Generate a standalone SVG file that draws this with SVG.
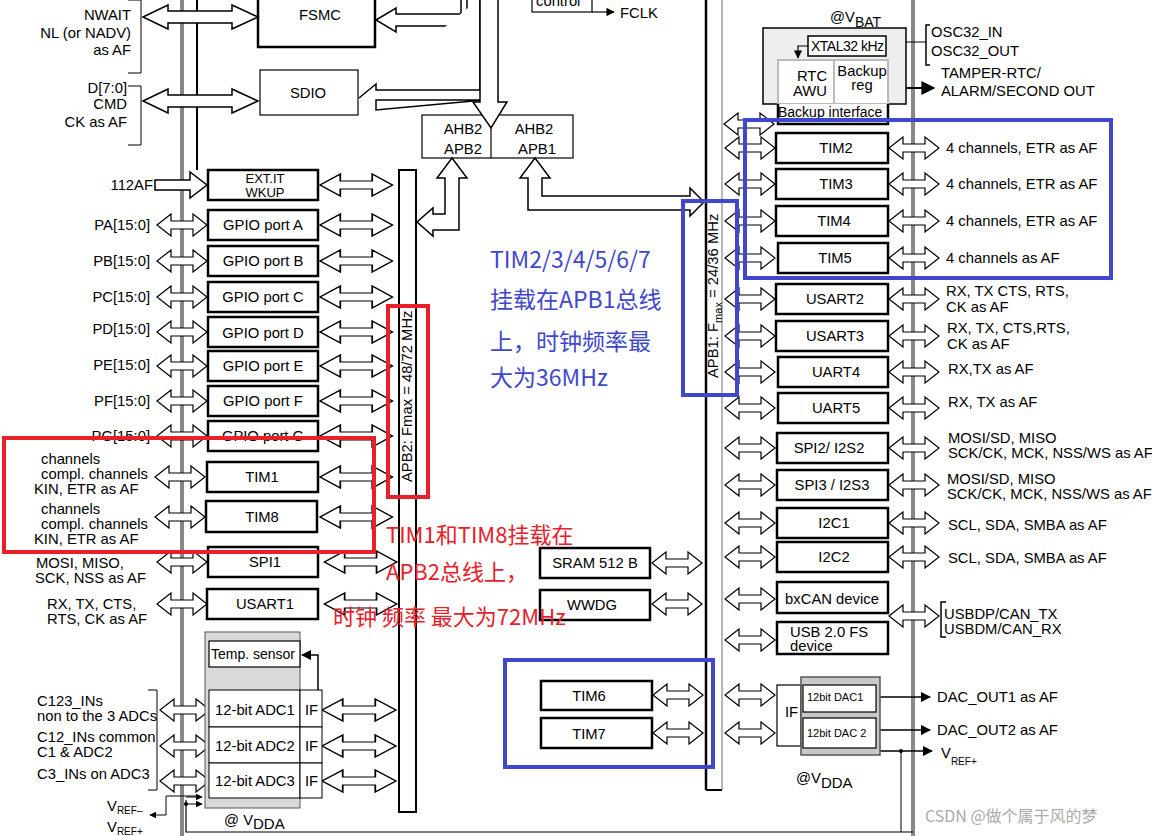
<svg xmlns="http://www.w3.org/2000/svg" xmlns:xlink="http://www.w3.org/1999/xlink" width="1152" height="836" viewBox="0 0 1152 836">
<style>
text{font-family:"Liberation Sans",Arial,sans-serif;font-size:14.8px;fill:#000}
.blk{fill:#fff;stroke:#000;stroke-width:2.5}
.thin{fill:#fff;stroke:#000;stroke-width:1.2}
.c{text-anchor:middle}
.e{text-anchor:end}
.da{fill:#fff;stroke:#000;stroke-width:1.2}
.ha{fill:#fff;stroke:#000;stroke-width:1.5}
.blue{fill:none;stroke:#3f48cc;stroke-width:4}
.red{fill:none;stroke:#e8202a;stroke-width:4}
.bt{font-family:"Noto Sans CJK SC","Noto Sans",sans-serif;font-size:23px;fill:#3f48cc}
.rt{font-family:"Noto Sans CJK SC","Noto Sans",sans-serif;font-size:22px;fill:#e8202a}
</style>
<defs>
<path id="da" class="da" d="M0,0 L14,-11 L14,-4 L36,-4 L36,-11 L50,0 L36,11 L36,4 L14,4 L14,11 Z"/>
<marker id="ar" viewBox="0 0 10 10" refX="9" refY="5" markerWidth="7" markerHeight="7" orient="auto"><path d="M0,0 L10,5 L0,10 Z" fill="#000"/></marker>
</defs>
<rect width="1152" height="836" fill="#fff"/>
<g id="buses">
<line x1="182" y1="0" x2="182" y2="836" stroke="#888" stroke-width="4"/>
<line x1="197" y1="0" x2="197" y2="170" stroke="#000" stroke-width="2"/>
<line x1="913" y1="0" x2="913" y2="836" stroke="#888" stroke-width="4"/>
<rect x="399" y="170" width="17" height="642" class="blk" style="stroke-width:2"/>
<text transform="translate(412,482) rotate(-90)">APB2: Fmax = 48/72 MHz</text>
<line x1="706" y1="0" x2="706" y2="790" stroke="#000" stroke-width="2.5"/>
<line x1="722" y1="0" x2="722" y2="790" stroke="#888" stroke-width="1.2"/>
<line x1="706" y1="790" x2="722" y2="790" stroke="#000" stroke-width="2"/>
<text transform="translate(718,378) rotate(-90)">APB1: F<tspan font-size="11" dy="4">max</tspan><tspan dy="-4"> = 24/36 MHz</tspan></text>
<polyline points="186,800 186,832 913,832" fill="none" stroke="#000" stroke-width="1.2"/>
</g>
<g id="fsmc"><rect x="258" y="-5" width="117" height="52" class="blk"/><text x="320" y="20" class="c">FSMC</text></g>
<g id="sdio"><rect x="260" y="70" width="98" height="45" class="thin"/><text x="308" y="98" class="c">SDIO</text></g>
<g id="ahb">
<rect x="422" y="115" width="151" height="43" class="thin"/><line x1="491" y1="115" x2="491" y2="158" stroke="#000" stroke-width="1.2"/>
<text x="463" y="134" class="c">AHB2</text><text x="463" y="154" class="c">APB2</text>
<text x="534" y="134" class="c">AHB2</text><text x="537" y="154" class="c">APB1</text>
<text transform="translate(490,84) rotate(-90)">AHB: Fmax</text>
<rect x="532" y="-10" width="60" height="22" class="thin"/><text x="536" y="6">control</text>
<line x1="592" y1="12" x2="614" y2="12" stroke="#000" stroke-width="1.2" marker-end="url(#ar)"/><text x="620" y="18">FCLK</text>
</g>
<g id="connectors">
<path class="ha" d="M143,17 L168,5 L168,11 L232,11 L232,5 L258,17 L232,29 L232,23 L168,23 L168,29 Z"/>
<path class="ha" d="M143,101 L168,89 L168,95 L232,95 L232,89 L258,101 L232,113 L232,107 L168,107 L168,113 Z"/>
<path class="ha" d="M376,20 L396,8 L396,14 L461,14 L461,-2 L467,-2 L467,26 L396,26 L396,32 Z"/>
<path class="ha" d="M359,98 L376,84 L376,90 L480,90 L480,-2 M484,100 L376,100 L376,110 Z"/>
<path class="ha" d="M480,-2 L480,102 L473,102 L491,128 L507,102 L498,102 L498,-2"/>
<path class="ha" d="M452,158 L467,178 L459,178 L459,230 L433,230 L433,236 L417,222 L433,208 L433,214 L445,214 L445,178 L437,178 Z"/>
<path class="ha" d="M535,158 L550,178 L542,178 L542,196 L690,196 L690,188 L704,202 L690,216 L690,210 L528,210 L528,178 L520,178 Z"/>
<path class="ha" d="M155,180 L190,180 L190,172 L207,185 L190,198 L190,190 L155,190 Z"/>
<use href="#da" transform="translate(157,225)"/><use href="#da" transform="translate(157,261)"/>
<use href="#da" transform="translate(157,297)"/><use href="#da" transform="translate(157,332)"/>
<use href="#da" transform="translate(157,366)"/><use href="#da" transform="translate(157,401)"/>
<use href="#da" transform="translate(157,436)"/><use href="#da" transform="translate(155,477)"/>
<use href="#da" transform="translate(155,517)"/><use href="#da" transform="translate(157,562)"/>
<use href="#da" transform="translate(157,604)"/>
<use href="#da" transform="translate(160,710)"/><use href="#da" transform="translate(160,746)"/><use href="#da" transform="translate(160,781)"/>
<g transform="translate(320,0) scale(1.45,1)">
<use href="#da" transform="translate(0,185)"/><use href="#da" transform="translate(0,225)"/><use href="#da" transform="translate(0,261)"/>
<use href="#da" transform="translate(0,297)"/><use href="#da" transform="translate(0,332)"/><use href="#da" transform="translate(0,366)"/>
<use href="#da" transform="translate(0,401)"/><use href="#da" transform="translate(0,436)"/><use href="#da" transform="translate(0,477)"/>
<use href="#da" transform="translate(0,517)"/><use href="#da" transform="translate(3,562)"/><use href="#da" transform="translate(3,604)"/>
</g>
<g transform="translate(322,0) scale(1.48,1)">
<use href="#da" transform="translate(0,710)"/><use href="#da" transform="translate(0,746)"/><use href="#da" transform="translate(0,781)"/>
</g>
<use href="#da" transform="translate(652,563)"/><use href="#da" transform="translate(652,604)"/>
<use href="#da" transform="translate(653,695)"/><use href="#da" transform="translate(653,733)"/>
<use href="#da" transform="translate(724,124)"/>
<use href="#da" transform="translate(725,148)"/><use href="#da" transform="translate(725,184)"/><use href="#da" transform="translate(725,221)"/>
<use href="#da" transform="translate(725,258)"/><use href="#da" transform="translate(725,299)"/><use href="#da" transform="translate(725,336)"/>
<use href="#da" transform="translate(725,372)"/><use href="#da" transform="translate(725,408)"/><use href="#da" transform="translate(725,448)"/>
<use href="#da" transform="translate(725,485)"/><use href="#da" transform="translate(725,523)"/><use href="#da" transform="translate(725,557)"/>
<use href="#da" transform="translate(725,599)"/><use href="#da" transform="translate(725,640)"/>
<use href="#da" transform="translate(725,695)"/><use href="#da" transform="translate(725,733)"/>
<use href="#da" transform="translate(889,148)"/><use href="#da" transform="translate(889,184)"/><use href="#da" transform="translate(889,221)"/>
<use href="#da" transform="translate(889,258)"/><use href="#da" transform="translate(889,299)"/><use href="#da" transform="translate(889,336)"/>
<use href="#da" transform="translate(889,372)"/><use href="#da" transform="translate(889,408)"/><use href="#da" transform="translate(889,448)"/>
<use href="#da" transform="translate(889,485)"/><use href="#da" transform="translate(889,523)"/><use href="#da" transform="translate(889,557)"/>
<use href="#da" transform="translate(889,616)"/>
<line x1="880" y1="697" x2="930" y2="697" stroke="#000" stroke-width="1.5" marker-end="url(#ar)"/>
<line x1="880" y1="730" x2="930" y2="730" stroke="#000" stroke-width="1.5" marker-end="url(#ar)"/>
<line x1="880" y1="751" x2="932" y2="751" stroke="#000" stroke-width="1.5" marker-end="url(#ar)"/>
<polyline points="901,751 901,832" fill="none" stroke="#000" stroke-width="1"/>
<circle cx="901" cy="751" r="2"/>
<polyline points="318,690 318,655 302,655" fill="none" stroke="#000" stroke-width="1.5" marker-end="url(#ar)"/>
<polyline points="200,796 166,796 166,815 150,815" fill="none" stroke="#000" stroke-width="1" marker-end="url(#ar)"/>
<line x1="186" y1="797" x2="202" y2="797" stroke="#000" stroke-width="1" marker-end="url(#ar)"/>
<line x1="186" y1="804" x2="202" y2="804" stroke="#000" stroke-width="1" marker-end="url(#ar)"/>
<circle cx="186" cy="804" r="2"/>
<line x1="890" y1="88" x2="934" y2="88" stroke="#000" stroke-width="2" marker-end="url(#ar)" marker-start="url(#ar)"/>
<polyline points="888,42 926,42" fill="none" stroke="#000" stroke-width="1.2"/>
<polyline points="930,25 926,25 926,65 930,65" fill="none" stroke="#000" stroke-width="1.5"/>
<polyline points="128,0 141,0 141,73 128,73" fill="none" stroke="#000" stroke-width="1"/>
<polyline points="128,86 141,86 141,145 128,145" fill="none" stroke="#000" stroke-width="1"/>
<polyline points="148,690 157,690 157,790 148,790" fill="none" stroke="#000" stroke-width="1"/>
<polyline points="946,602 941,602 941,637 946,637" fill="none" stroke="#000" stroke-width="1.5"/>
</g>
<g id="extit"><rect x="208" y="170" width="110" height="30" class="blk"/><text x="265" y="183" class="c" style="font-size:13px">EXT.IT</text><text x="265" y="197" class="c" style="font-size:13px">WKUP</text></g>
<g id="gpioa"><rect x="208" y="210" width="110" height="30" class="blk"/><text x="263" y="230" class="c">GPIO port A</text></g>
<g id="gpiob"><rect x="208" y="246" width="110" height="30" class="blk"/><text x="263" y="266" class="c">GPIO port B</text></g>
<g id="gpioc"><rect x="208" y="282" width="110" height="30" class="blk"/><text x="263" y="302" class="c">GPIO port C</text></g>
<g id="gpiod"><rect x="208" y="317" width="110" height="30" class="blk"/><text x="263" y="338" class="c">GPIO port D</text></g>
<g id="gpioe"><rect x="208" y="351" width="110" height="30" class="blk"/><text x="263" y="371" class="c">GPIO port E</text></g>
<g id="gpiof"><rect x="208" y="386" width="110" height="30" class="blk"/><text x="263" y="406" class="c">GPIO port F</text></g>
<g id="gpiog"><rect x="208" y="421" width="110" height="30" class="blk"/><text x="263" y="441" class="c">GPIO port G</text></g>
<g id="tim1"><rect x="207" y="462" width="111" height="30" class="blk"/><text x="262" y="482" class="c">TIM1</text></g>
<g id="tim8"><rect x="206" y="501" width="111" height="31" class="blk"/><text x="262" y="522" class="c">TIM8</text></g>
<g id="spi1"><rect x="208" y="547" width="110" height="30" class="blk"/><text x="265" y="567" class="c">SPI1</text></g>
<g id="usart1"><rect x="207" y="589" width="111" height="30" class="blk"/><text x="265" y="609" class="c">USART1</text></g>
<g id="adc">
<rect x="205" y="632" width="95" height="176" fill="#d9d9d9" stroke="#555"/>
<rect x="209" y="641" width="91" height="26" class="thin"/><text x="211" y="659" style="font-size:14px">Temp. sensor</text>
<rect x="209" y="690" width="91" height="37" fill="#fff" stroke="#000"/><rect x="300" y="690" width="22" height="37" fill="#fff" stroke="#000"/>
<rect x="209" y="727" width="91" height="36" fill="#fff" stroke="#000"/><rect x="300" y="727" width="22" height="36" fill="#fff" stroke="#000"/>
<rect x="209" y="763" width="91" height="35" fill="#fff" stroke="#000"/><rect x="300" y="763" width="22" height="35" fill="#fff" stroke="#000"/>
<text x="215" y="715">12-bit ADC1</text><text x="305" y="715">IF</text>
<text x="215" y="751">12-bit ADC2</text><text x="305" y="751">IF</text>
<text x="215" y="786">12-bit ADC3</text><text x="305" y="786">IF</text>
<text x="224" y="825">@ V<tspan font-size="15" dy="4">DDA</tspan></text>
</g>
<g id="sram"><rect x="540" y="548" width="110" height="30" class="blk"/><text x="595" y="568" class="c">SRAM 512 B</text></g>
<g id="wwdg"><rect x="540" y="590" width="110" height="30" class="blk"/><text x="592" y="610" class="c">WWDG</text></g>
<g id="tim6"><rect x="541" y="681" width="111" height="29" class="blk"/><text x="589" y="701" class="c">TIM6</text></g>
<g id="tim7"><rect x="541" y="718" width="111" height="30" class="blk"/><text x="589" y="739" class="c">TIM7</text></g>
<g id="backup">
<text x="830" y="22">@V<tspan font-size="14" dy="5">BAT</tspan></text>
<path d="M763,28 L906,28 L906,104 L763,104 Z" fill="#eee" stroke="#000" stroke-width="1.5"/>
<rect x="808" y="36" width="78" height="20" class="blk" style="stroke-width:1.5"/><text x="811" y="51" style="letter-spacing:-0.5px;font-size:14px">XTAL32 kHz</text>
<polyline points="808,46 798,46 798,58" fill="none" stroke="#000" stroke-width="1.2" marker-end="url(#ar)"/>
<rect x="778" y="60" width="110" height="44" fill="#fff" stroke="#bbb" stroke-width="2"/><line x1="834" y1="60" x2="834" y2="104" stroke="#bbb" stroke-width="2"/>
<text x="812" y="81" class="c">RTC</text><text x="810" y="96" class="c">AWU</text>
<text x="862" y="76" class="c">Backup</text><text x="862" y="90" class="c">reg</text>
<polyline points="778,104 778,124 888,124 888,104" fill="#fff" stroke="#000" stroke-width="2.5"/>
<text x="778" y="117" style="font-size:14px">Backup interface</text>
<text x="931" y="37">OSC32_IN</text><text x="931" y="56">OSC32_OUT</text>
<text x="941" y="78">TAMPER-RTC/</text><text x="941" y="96">ALARM/SECOND OUT</text>
</g>
<g id="apb1periph">
<rect x="776" y="133" width="112" height="30" class="blk"/><text x="836" y="153" class="c">TIM2</text>
<rect x="776" y="169" width="112" height="30" class="blk"/><text x="836" y="189" class="c">TIM3</text>
<rect x="776" y="206" width="112" height="30" class="blk"/><text x="834" y="226" class="c">TIM4</text>
<rect x="778" y="243" width="110" height="30" class="blk"/><text x="835" y="263" class="c">TIM5</text>
<rect x="776" y="284" width="112" height="30" class="blk"/><text x="835" y="304" class="c">USART2</text>
<rect x="776" y="321" width="112" height="30" class="blk"/><text x="835" y="341" class="c">USART3</text>
<rect x="778" y="357" width="110" height="30" class="blk"/><text x="836" y="377" class="c">UART4</text>
<rect x="778" y="393" width="110" height="30" class="blk"/><text x="836" y="413" class="c">UART5</text>
<rect x="777" y="433" width="111" height="30" class="blk"/><text x="829" y="453" class="c">SPI2/ I2S2</text>
<rect x="777" y="470" width="111" height="30" class="blk"/><text x="832" y="490" class="c">SPI3 / I2S3</text>
<rect x="777" y="508" width="111" height="30" class="blk"/><text x="834" y="528" class="c">I2C1</text>
<rect x="777" y="542" width="111" height="30" class="blk"/><text x="834" y="562" class="c">I2C2</text>
<rect x="777" y="582" width="111" height="31" class="blk"/><text x="832" y="604" class="c">bxCAN device</text>
<rect x="777" y="622" width="111" height="32" class="blk"/><text x="790" y="637">USB 2.0 FS</text><text x="790" y="651">device</text>
</g>
<g id="dac">
<rect x="777" y="685" width="24" height="61" class="thin"/><text x="785" y="717">IF</text>
<rect x="801" y="677" width="79" height="78" fill="#c8c8c8" stroke="#555" stroke-width="1.5"/>
<rect x="803" y="685" width="73" height="27" class="thin"/><text x="807" y="701" style="font-size:11px">12bit  DAC1</text>
<rect x="803" y="718" width="73" height="30" class="thin"/><text x="807" y="737" style="font-size:11px">12bit DAC 2</text>
<text x="796" y="783">@V<tspan font-size="15" dy="5">DDA</tspan></text>
</g>
<g id="labels-left">
<text x="131" y="20" class="e">NWAIT</text><text x="131" y="38" class="e">NL (or NADV)</text><text x="131" y="55" class="e">as AF</text>
<text x="127" y="93" class="e">D[7:0]</text><text x="127" y="109" class="e">CMD</text><text x="127" y="127" class="e">CK as AF</text>
<text x="153" y="190" class="e">112AF</text>
<text x="150" y="230" class="e">PA[15:0]</text><text x="150" y="266" class="e">PB[15:0]</text><text x="150" y="302" class="e">PC[15:0]</text>
<text x="150" y="334" class="e">PD[15:0]</text><text x="150" y="370" class="e">PE[15:0]</text><text x="150" y="406" class="e">PF[15:0]</text>
<text x="150" y="441" class="e">PG[15:0]</text>
<text x="41" y="464">channels</text><text x="41" y="479">compl. channels</text><text x="34" y="494">KIN, ETR as AF</text>
<text x="41" y="514">channels</text><text x="41" y="529">compl. channels</text><text x="34" y="544">KIN, ETR as AF</text>
<text x="36" y="568">MOSI, MISO,</text><text x="35" y="583">SCK, NSS as AF</text>
<text x="47" y="609">RX, TX, CTS,</text><text x="47" y="624">RTS, CK as AF</text>
<text x="37" y="706">C123_INs</text><text x="37" y="721">non to the 3 ADCs</text>
<text x="37" y="742">C12_INs common</text><text x="37" y="757">C1 &amp; ADC2</text>
<text x="37" y="779">C3_INs on ADC3</text>
<text x="107" y="811">V<tspan font-size="10" dy="3">REF–</tspan></text>
<text x="107" y="832">V<tspan font-size="10" dy="3">REF+</tspan></text>
</g>
<g id="labels-right">
<text x="946" y="153">4 channels, ETR as AF</text><text x="946" y="189">4 channels, ETR as AF</text>
<text x="946" y="226">4 channels, ETR as AF</text><text x="946" y="263">4 channels as AF</text>
<text x="946" y="296">RX, TX CTS, RTS,</text><text x="946" y="312">CK as AF</text>
<text x="947" y="333">RX, TX, CTS,RTS,</text><text x="947" y="349">CK as AF</text>
<text x="948" y="374">RX,TX as AF</text><text x="948" y="407">RX, TX as AF</text>
<text x="948" y="443">MOSI/SD, MISO</text><text x="948" y="458">SCK/CK, MCK, NSS/WS as AF</text>
<text x="947" y="484">MOSI/SD, MISO</text><text x="947" y="499">SCK/CK, MCK, NSS/WS as AF</text>
<text x="948" y="530">SCL, SDA, SMBA as AF</text><text x="948" y="563">SCL, SDA, SMBA as AF</text>
<text x="944" y="619">USBDP/CAN_TX</text><text x="944" y="634">USBDM/CAN_RX</text>
<text x="937" y="702">DAC_OUT1 as AF</text><text x="937" y="735">DAC_OUT2 as AF</text>
<text x="941" y="758">V<tspan font-size="10" dy="7">REF+</tspan></text>
</g>
<g id="annotations">
<rect x="745" y="120" width="366" height="158" class="blue"/>
<rect x="683" y="201" width="54" height="194" class="blue"/>
<rect x="505" y="660" width="208" height="107" class="blue"/>
<rect x="388" y="306" width="40" height="191" class="red"/>
<rect x="4" y="438" width="370" height="114" class="red"/>
<text x="490" y="268" class="bt">TIM2/3/4/5/6/7</text>
<text x="490" y="308" class="bt">挂载在APB1总线</text>
<text x="490" y="350" class="bt">上，时钟频率最</text>
<text x="490" y="386" class="bt">大为36MHz</text>
<text x="386" y="543" class="rt">TIM1和TIM8挂载在</text>
<text x="386" y="580" class="rt">APB2总线上，</text>
<text x="333" y="625" class="rt">时钟 频率 最大为72MHz</text>
<text x="925" y="822" style="font-family:'Noto Sans CJK SC',sans-serif;font-size:16px;fill:#aaa">CSDN @做个属于风的梦</text>
</g>
</svg>
